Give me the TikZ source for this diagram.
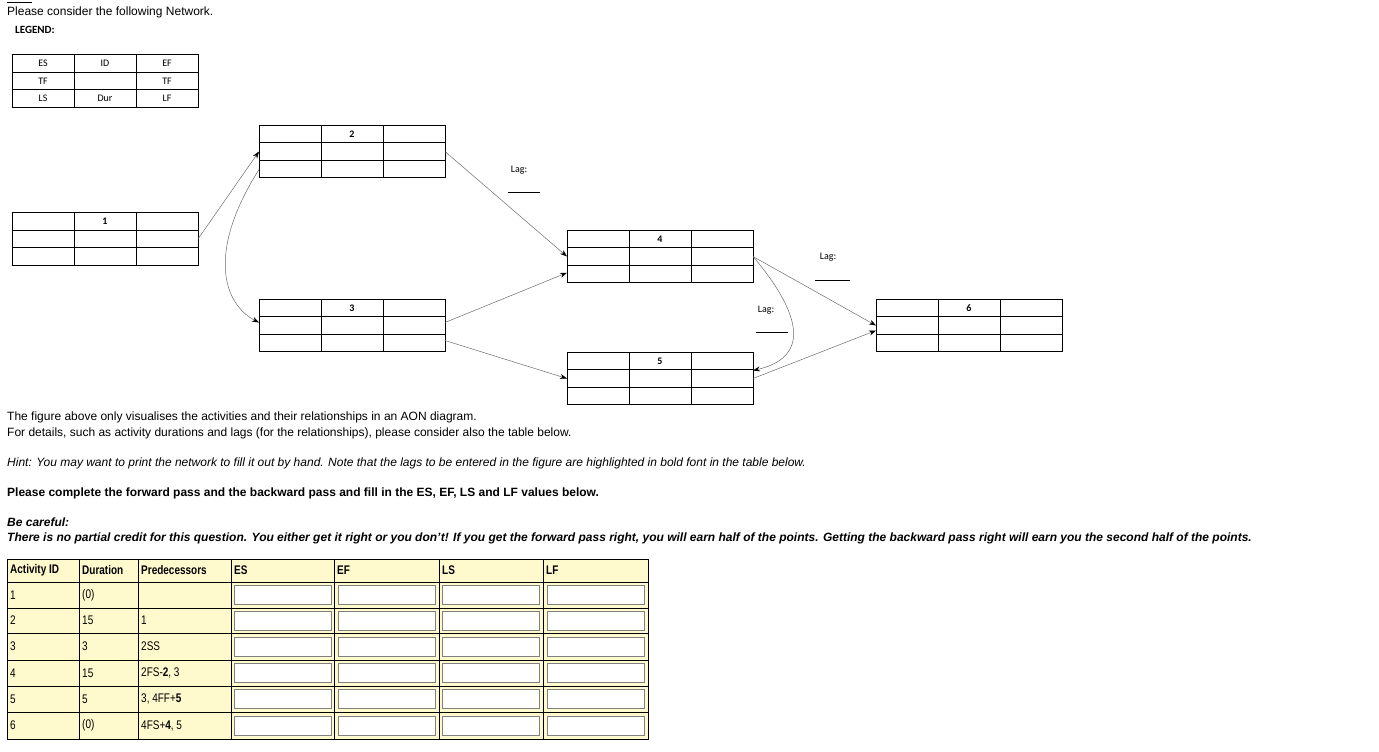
\documentclass[tikz,border=0pt]{standalone}
\usepackage{fontspec}
\setmainfont{Liberation Sans}
\newfontfamily\carl{Carlito}
\newfontfamily\narrow[FakeStretch=0.8]{Liberation Sans}
\usetikzlibrary{arrows.meta,calc}
\definecolor{tabbg}{HTML}{FFFACD}
\begin{document}
\begin{tikzpicture}[x=1pt,y=-1pt,
  abox/.style={draw,line width=0.8pt,minimum width=186pt,minimum height=52.5pt,inner sep=0,outer sep=0},
  gridl/.style={line width=0.8pt},
  conn/.style={draw=gray!85!black,line width=0.5pt,-{Stealth[black,length=7pt,width=5pt]}},
  lt/.style={font=\carl\fontsize{10}{12}\selectfont,inner sep=0},
  txt/.style={anchor=west,inner sep=0,font=\fontsize{12}{14}\selectfont},
  tt/.style={anchor=west,inner sep=0,font=\narrow\fontsize{12.5}{14}\selectfont}]
\useasboundingbox (0,0) rectangle (1379,752);
\newcommand\actbox[4]{%
  \node[abox] (#1) at (#2,#3) {};
  \draw[gridl] ($(#1.north west)+(62,0)$) -- ($(#1.south west)+(62,0)$);
  \draw[gridl] ($(#1.north west)+(124,0)$) -- ($(#1.south west)+(124,0)$);
  \draw[gridl] ($(#1.north west)+(0,17.5)$) -- ($(#1.north east)+(0,17.5)$);
  \draw[gridl] ($(#1.north west)+(0,35)$) -- ($(#1.north east)+(0,35)$);
  \node[lt,font=\carl\bfseries\fontsize{10}{12}\selectfont] (#1-id) at ($(#1.north)+(0,8.75)$) {#4};}
% header
\draw[line width=0.6pt] (7,2) coordinate (tl1) -- (32,2) coordinate (tl2);
\node[txt] (t0) at (7,12) {Please consider the following Network.};
\node[txt,font=\carl\bfseries\fontsize{11}{13}\selectfont] (leg) at (15,30) {LEGEND:};
% legend
\actbox{lg}{105}{81}{}
\foreach \r/\a/\b/\c in {0/ES/ID/EF,1/TF//TF,2/LS/Dur/LF}{
  \node[lt] at ($(lg.north west)+(31,8.75+17.5*\r)$) {\a};
  \node[lt] at ($(lg.north west)+(93,8.75+17.5*\r)$) {\b};
  \node[lt] at ($(lg.north west)+(155,8.75+17.5*\r)$) {\c};}
% activity boxes
\actbox{b1}{105}{239}{1}
\actbox{b2}{352}{151.5}{2}
\actbox{b3}{352}{325.5}{3}
\actbox{b4}{660}{256.5}{4}
\actbox{b5}{660}{378.5}{5}
\actbox{b6}{969}{325.5}{6}
% connectors
\draw[conn] (b1.east) -- (b2.west);
\draw[conn] ($(b2.west)+(0,18)$) .. controls (205,255) and (225,305) .. ($(b3.west)+(0,-3)$);
\draw[conn] (b2.east) -- (b4.west);
\draw[conn] ($(b3.east)+(0,-3)$) -- ($(b4.south west)+(0,-10)$);
\draw[conn] ($(b3.east)+(0,15)$) -- (b5.west);
\draw[conn] (b4.east) -- (b6.west);
\draw[conn] (b4.east) .. controls (790,300) and (820,355) .. ($(b5.east)+(0,-8)$);
\draw[conn] (b5.east) -- ($(b6.west)+(0,5)$);
% lags
\node[lt] (lag1) at (519,170) {Lag:};
\draw[line width=0.6pt] (508,192) -- (540,192);
\node[lt] (lag2) at (828,257) {Lag:};
\draw[line width=0.6pt] (815,280) -- (850,280);
\node[lt] (lag3) at (766,310) {Lag:};
\draw[line width=0.6pt] (756,332) -- (788,332);
% texts
\node[txt] (p1) at (7,417) {The figure above only visualises the activities and their relationships in an AON diagram.};
\node[txt] (p2) at (7,433) {For details, such as activity durations and lags (for the relationships), please consider also the table below.};
\node[txt,font=\itshape\fontsize{12}{14}\selectfont] (p3) at (7,463) {Hint: You may want to print the network to fill it out by hand. Note that the lags to be entered in the figure are highlighted in bold font in the table below.};
\node[txt,font=\bfseries\fontsize{12}{14}\selectfont] (p4) at (7,493) {Please complete the forward pass and the backward pass and fill in the ES, EF, LS and LF values below.};
\node[txt,font=\bfseries\itshape\fontsize{12}{14}\selectfont] (p5) at (7,522) {Be careful:};
\node[txt,font=\bfseries\itshape\fontsize{12}{14}\selectfont] (p6) at (7,538) {There is no partial credit for this question. You either get it right or you don't! If you get the forward pass right, you will earn half of the points. Getting the backward pass right will earn you the second half of the points.};
% table
\def\cols{7,79,138,231,334,439,543,648}
\def\rows{559,582,608,633,660,686,712,739}
\fill[tabbg] (7,559) rectangle (648,739);
\foreach \x in \cols {\draw[line width=0.6pt] (\x,559) -- (\x,739);}
\foreach \y in \rows {\draw[line width=0.6pt] (7,\y) -- (648,\y);}
\draw[line width=1pt] (7,559) rectangle (648,739);
\foreach \h/\x in {Activity ID/10,Duration/82,Predecessors/141,ES/234,EF/337,LS/442,LF/546}
  {\node[tt,font=\narrow\bfseries\fontsize{12.5}{14}\selectfont] at (\x,570.5) {\h};}
\foreach \y/\a/\b/\c [count=\i] in {595/1/(0)/,620.5/2/15/1,646.5/3/3/2SS,673/4/15/{2FS-\textbf{2}, 3},699/5/5/{3, 4FF+\textbf{5}},725.5/6/(0)/{4FS+\textbf{4}, 5}}{
  \node[tt] (a\i) at (10,\y) {\a};
  \node[tt] (d\i) at (82,\y) {\b};
  \node[tt] (pr\i) at (141,\y) {\c};
  \foreach \x in {234,338,442,547}{\draw[draw=gray,fill=white,line width=0.8pt] (\x,\y-9.5) rectangle (\x+97,\y+9.5);}}
\end{tikzpicture}
\end{document}
